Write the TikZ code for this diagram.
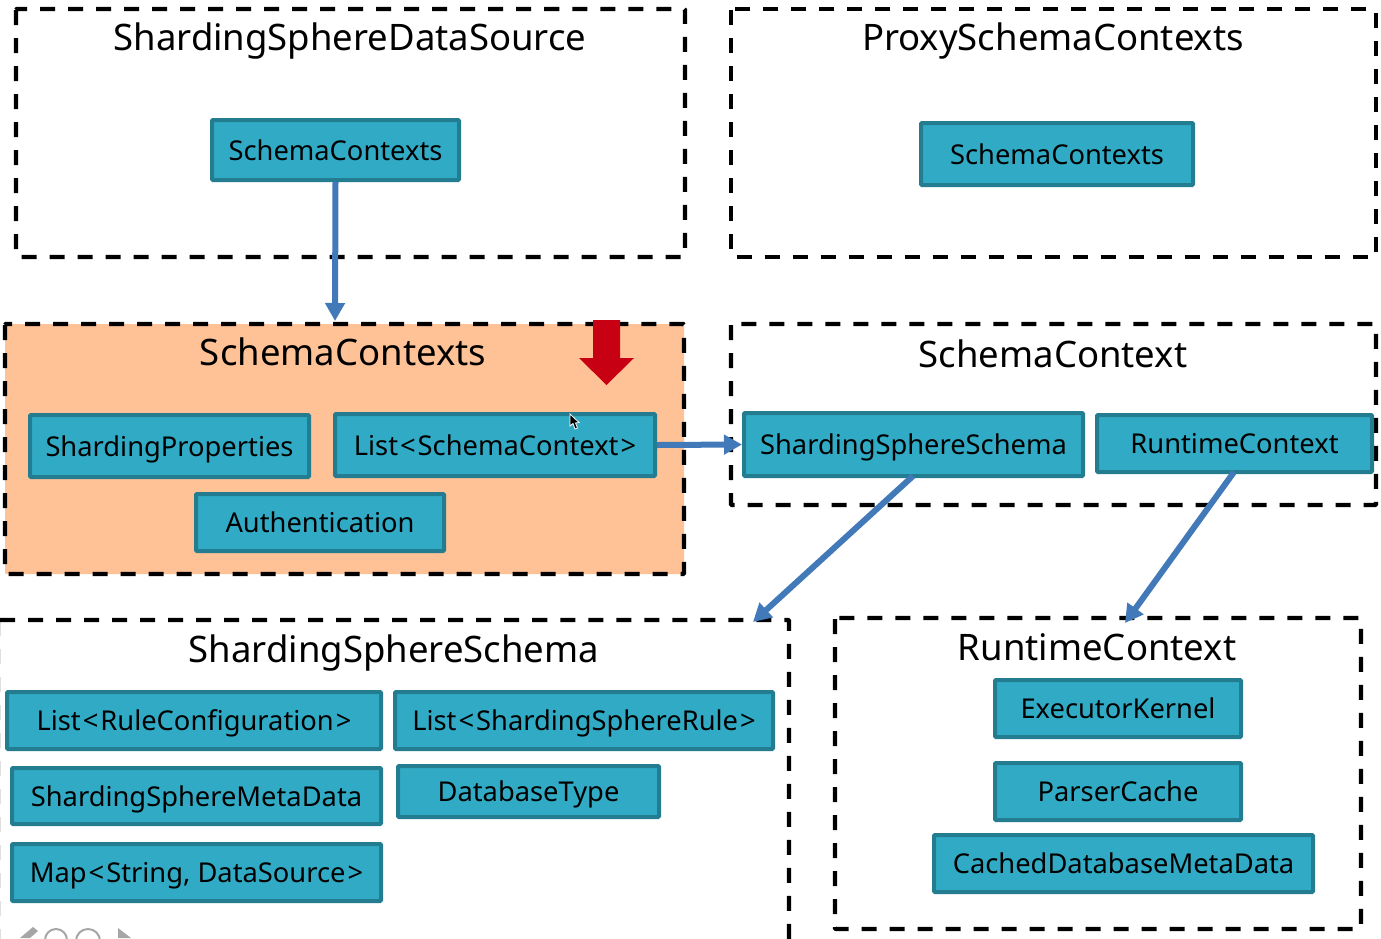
\documentclass[tikz,border=0pt]{standalone}
\usepackage{fontspec}
\setmainfont{Noto Sans}
\usetikzlibrary{arrows.meta}
\definecolor{boxfill}{HTML}{31ABC5}
\definecolor{boxline}{HTML}{247C90}
\definecolor{arrowblue}{HTML}{4279B8}
\definecolor{panelorange}{HTML}{FFC196}
\definecolor{redarrow}{HTML}{C80014}
\tikzset{
  panel/.style={draw=black,line width=4.3pt,dash pattern=on 15pt off 13pt,rounded corners=1pt},
  item/.style={draw=boxline,fill=boxfill,line width=4pt,rounded corners=1pt,inner sep=0pt,text=black,text height=26pt,text depth=6pt,font=\fontsize{27.3}{32}\selectfont},
  paneltitle/.style={inner sep=0pt,text=black,text height=33pt,text depth=7pt,font=\fontsize{36.5}{42}\selectfont},
  link/.style={draw=arrowblue,line width=6pt,-{Triangle[length=18pt,width=19pt]}},
}
\newcommand{\opn}{\kern2pt<\kern2pt}
\newcommand{\cls}{\kern2pt>}
\newcommand{\itembox}[6]{\node[item,minimum width=#4-#2,minimum height=#5-#3] (#1) at ({(#2+#4)/2},{(#3+#5)/2}) {#6};}
\begin{document}
\begin{tikzpicture}[x=1pt,y=-1pt]
\useasboundingbox (0,0) rectangle (1381,938);
\fill[white] (0,0) rectangle (1381,938);
% panels
\draw[panel] (16,9) rectangle (685,257);
\draw[panel] (731,9) rectangle (1376,257);
\draw[panel,fill=panelorange] (5,324) rectangle (684,574);
\draw[panel] (731,324) rectangle (1376,505);
\draw[panel] (-2,620) rectangle (789,945);
\draw[panel] (835,618) rectangle (1361,929);
\coordinate (schemaTop) at (335,321);
\coordinate (sssPanel) at (753,622);
\coordinate (rtPanel) at (1125,623);
\coordinate (fOut) at (913,476);
\coordinate (gOut) at (1234,472);
% titles
\node[paneltitle] (t1) at (350,37) {ShardingSphereDataSource};
\node[paneltitle] (t2) at (1053,37) {ProxySchemaContexts};
\node[paneltitle] (t3) at (343,352) {SchemaContexts};
\node[paneltitle] (t4) at (1053,354) {SchemaContext};
\node[paneltitle] (t5) at (394,649) {ShardingSphereSchema};
\node[paneltitle] (t6) at (1097,647) {RuntimeContext};
% items
\itembox{a}{212}{120}{459}{180}{SchemaContexts}
\itembox{b}{921}{123}{1193}{185}{SchemaContexts}
\itembox{c}{30}{415}{309}{477}{ShardingProperties}
\itembox{d}{335}{414}{655}{476}{List\opn SchemaContext\cls}
\itembox{e}{196}{494}{444}{551}{Authentication}
\itembox{f}{744}{413}{1083}{476}{ShardingSphereSchema}
\itembox{g}{1097}{415}{1372}{472}{RuntimeContext}
\itembox{h}{7}{692}{381}{749}{List\opn RuleConfiguration\cls}
\itembox{i}{395}{692}{773}{749}{List\opn ShardingSphereRule\cls}
\itembox{j}{12}{768}{381}{824}{ShardingSphereMetaData}
\itembox{k}{398}{766}{659}{817}{DatabaseType}
\itembox{l}{12}{844}{381}{901}{Map\opn String, DataSource\cls}
\itembox{m}{995}{680}{1241}{737}{ExecutorKernel}
\itembox{n}{995}{763}{1241}{820}{ParserCache}
\itembox{o}{934}{835}{1313}{892}{CachedDatabaseMetaData}
% connectors
\draw[link] (a.south) -- (schemaTop);
\draw[link] (d.east) -- (f.west);
\draw[link] (fOut) -- (sssPanel);
\draw[link] (gOut) -- (rtPanel);
% red arrow
\fill[redarrow] (593,320) -- (620,320) -- (620,358) -- (634,358) -- (606.5,385) -- (579,358) -- (593,358) -- cycle;
% cursor
\draw[white,fill=black,line width=.8pt] (570,414) -- (570,426) -- (573,423.5) -- (575,429) -- (577.5,428) -- (575.5,423) -- (579,422.5) -- cycle;
% toolbar remnants
\draw[gray!70,line width=2pt] (56,940) circle (11);
\draw[gray!70,line width=2pt] (88,941) circle (12);
\fill[gray!70] (118,938) -- (118,928) -- (131,938) -- cycle;
\fill[gray!70] (20,938) -- (33,927) -- (38,931) -- (30,938) -- cycle;
\end{tikzpicture}
\end{document}
